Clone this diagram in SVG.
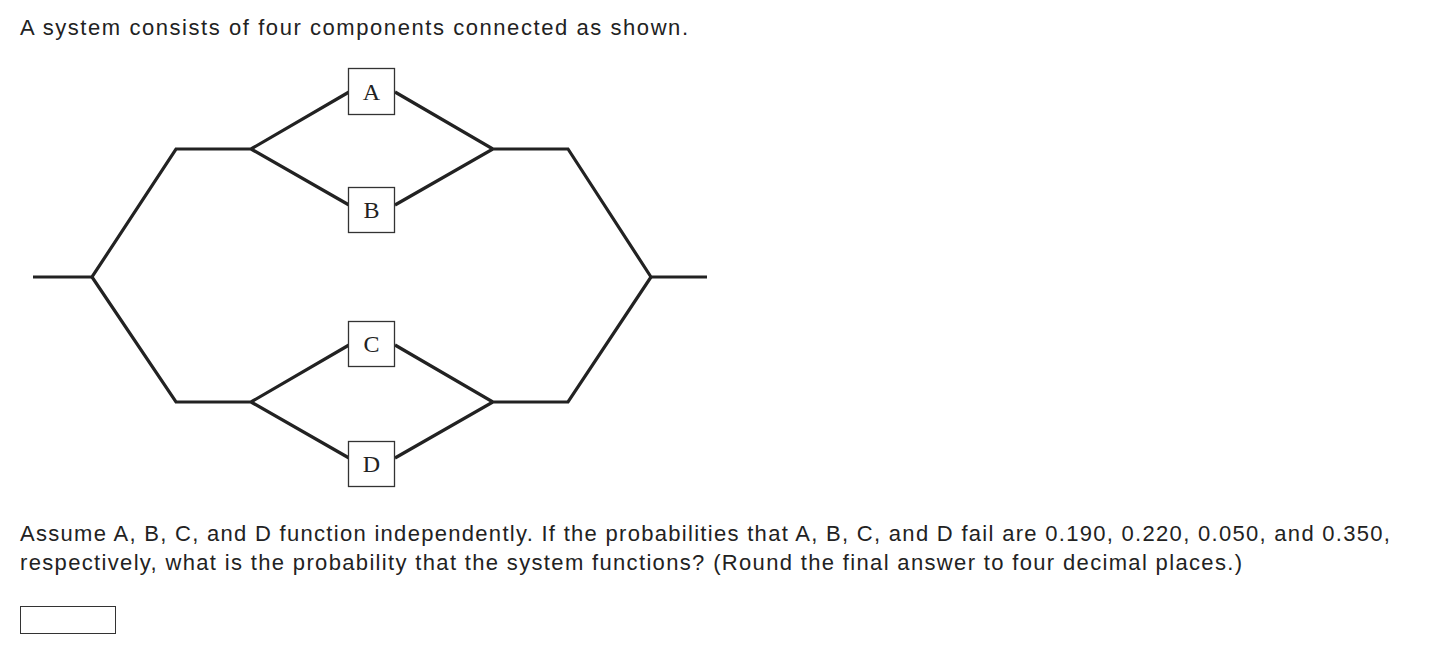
<svg xmlns="http://www.w3.org/2000/svg" width="1440" height="666" viewBox="0 0 1440 666">
<style>
.t{font-family:"Liberation Sans",Arial,sans-serif;font-size:22px;fill:#222}
.w{fill:none;stroke:#222;stroke-width:3.2;stroke-linejoin:miter}
.b{fill:#fff;stroke:#333;stroke-width:1.3}
.l{font-family:"Liberation Serif","Times New Roman",serif;font-size:24px;fill:#222;text-anchor:middle}
</style>
<rect width="1440" height="666" fill="#fff"/>
<text class="t" x="20" y="35" textLength="668" lengthAdjust="spacing">A system consists of four components connected as shown.</text>
<g id="connectors">
<path class="w" d="M33,277 H92 L176,149 H251 L349,92 M251,149 L349,205 M395,92 L493,149 L395,205 M493,149 H568 L651,277 H707"/>
<path class="w" d="M92,277 L176,402 H251 L349,345 M251,402 L349,458 M395,345 L493,402 L395,458 M493,402 H568 L651,277"/>
</g>
<g id="A"><rect class="b" x="348.5" y="68.5" width="46" height="46"/><text class="l" x="371.5" y="100">A</text></g>
<g id="B"><rect class="b" x="348.5" y="187.5" width="46" height="45"/><text class="l" x="371.5" y="218">B</text></g>
<g id="C"><rect class="b" x="348.5" y="321.5" width="46" height="45"/><text class="l" x="371.5" y="352">C</text></g>
<g id="D"><rect class="b" x="348.5" y="441.5" width="46" height="45"/><text class="l" x="371.5" y="472">D</text></g>
<text class="t" x="20" y="541" textLength="1370" lengthAdjust="spacing">Assume A, B, C, and D function independently. If the probabilities that A, B, C, and D fail are 0.190, 0.220, 0.050, and 0.350,</text>
<text class="t" x="20" y="570" textLength="1222" lengthAdjust="spacing">respectively, what is the probability that the system functions? (Round the final answer to four decimal places.)</text>
<rect x="20.5" y="606.5" width="95" height="27" fill="#fff" stroke="#333" stroke-width="1"/>
</svg>
